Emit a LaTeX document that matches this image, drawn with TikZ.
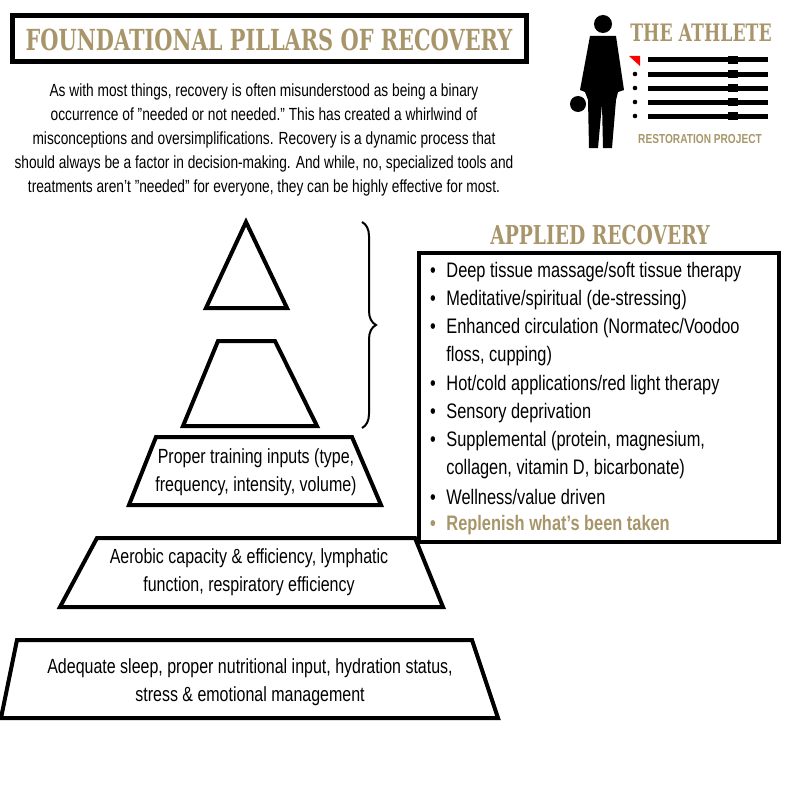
\documentclass[tikz,border=0pt]{standalone}
\usepackage{fontspec}
\setmainfont[FakeStretch=0.78]{Liberation Sans}
\newfontfamily\slabfont[FakeStretch=0.72]{DejaVu Serif}
\usetikzlibrary{positioning,decorations.pathreplacing}
\definecolor{gold}{HTML}{A8966A}
\tikzset{
	px/.style     = {x=1pt, y=-1pt},
	pillar/.style = {draw, line width=4pt, line join=miter},
	body/.style   = {font=\fontsize{17.6}{24}\selectfont, align=center, inner sep=0pt},
	tier/.style   = {font=\fontsize{20.5}{28}\selectfont, align=center, inner sep=0pt},
	head/.style   = {font=\slabfont\bfseries\fontsize{29}{29}\selectfont, text=gold, inner sep=0pt},
	item/.style   = {font=\fontsize{21}{28}\selectfont, anchor=west, inner sep=0pt},
	bar/.style    = {line width=5pt}
}
\begin{document}
\begin{tikzpicture}[px]
	\useasboundingbox (0,0) rectangle (800,800);
	
	% title and intro
	\draw[line width=5pt] (12,16) rectangle (526,62);
	\node [head] (title) at (269,40) {FOUNDATIONAL PILLARS OF RECOVERY};
	\node [body] (intro) at (264,140) {As with most things, recovery is often misunderstood as being a binary\\
		occurrence of "needed or not needed." This has created a whirlwind of\\
		misconceptions and oversimplifications. Recovery is a dynamic process that\\
		should always be a factor in decision-making. And while, no, specialized tools and\\
		treatments aren't "needed" for everyone, they can be highly effective for most.};
	
	% logo
	\fill (603,24) circle (9);
	\fill (590,36) -- (616,36) -- (624,90) -- (618,92) -- (616,100) -- (612,148) -- (603,148) -- (602,104)
		-- (598,148) -- (589,148) -- (588,100) -- (585,92) -- (580,90) -- cycle;
	\fill (578,104) circle (8);
	\node [head, font=\slabfont\bfseries\fontsize{24}{24}\selectfont] (athlete) at (701,33) {THE ATHLETE};
	\fill[red] (629,56) -- (640,56) -- (640,66) -- cycle;
	\foreach \i in {0,...,4}{
		\draw[bar] (648,{60+14*\i}) -- (768,{60+14*\i});
		\fill ({728},{60+14*\i-4}) rectangle (738,{60+14*\i+4});
	}
	\foreach \i in {1,...,4}
		\fill (635,{60+14*\i}) circle (2.3);
	\node [font=\bfseries\fontsize{13}{13}\selectfont, text=gold] (restore) at (700,139) {RESTORATION PROJECT};
	
	% pyramid
	\draw[pillar] (246,222) -- (287,308) -- (206,308) -- cycle;
	\draw[pillar] (218,341) -- (275,341) -- (317,426) -- (183,426) -- cycle;
	\draw[pillar] (156,437) -- (352,437) -- (381,505) -- (129,505) -- cycle;
	\draw[pillar] (97,538) -- (415,538) -- (443,607) -- (60,607) -- cycle;
	\draw[pillar] (17,640) -- (472,640) -- (498,718) -- (1,718) -- cycle;
	\node [tier] (p3) at (256,472) {Proper training inputs (type,\\frequency, intensity, volume)};
	\node [tier] (p4) at (249,572) {Aerobic capacity \& efficiency, lymphatic\\function, respiratory efficiency};
	\node [tier] (p5) at (250,682) {Adequate sleep, proper nutritional input, hydration status,\\stress \& emotional management};
	
	% applied recovery
	\draw[line width=2pt, decorate, decoration={brace, amplitude=14pt}] (362,222) -- (362,428);
	\node [head, font=\slabfont\bfseries\fontsize{26}{26}\selectfont] (applied) at (600,235) {APPLIED RECOVERY};
	\draw[line width=3.5pt] (419,253) rectangle (779,542);
	\node [item] (a1)  at (430,272) {\textbullet\enspace Deep tissue massage/soft tissue therapy};
	\node [item] (a2)  at (430,300) {\textbullet\enspace Meditative/spiritual (de-stressing)};
	\node [item] (a3)  at (430,328) {\textbullet\enspace Enhanced circulation (Normatec/Voodoo};
	\node [item] (a3b) at (430,356) {\phantom{\textbullet}\enspace floss, cupping)};
	\node [item] (a4)  at (430,385) {\textbullet\enspace Hot/cold applications/red light therapy};
	\node [item] (a5)  at (430,413) {\textbullet\enspace Sensory deprivation};
	\node [item] (a6)  at (430,441) {\textbullet\enspace Supplemental (protein, magnesium,};
	\node [item] (a6b) at (430,469) {\phantom{\textbullet}\enspace collagen, vitamin D, bicarbonate)};
	\node [item] (a7)  at (430,497) {\textbullet\enspace Wellness/value driven};
	\node [item, text=gold, font=\bfseries\fontsize{21}{28}\selectfont] (a8) at (430,525) {\textbullet\enspace Replenish what's been taken};
\end{tikzpicture}
\end{document}
